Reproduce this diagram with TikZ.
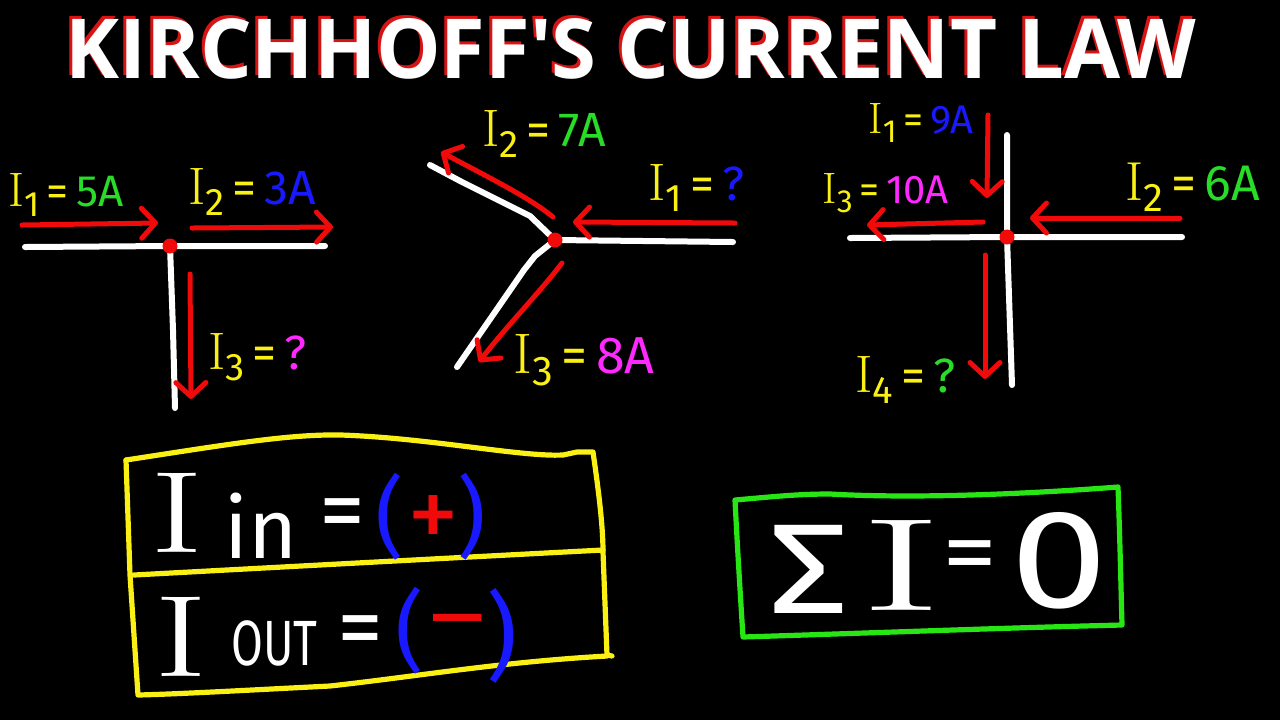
\documentclass[tikz,border=0pt]{standalone}
\usepackage{fontspec}
\usepackage{graphicx}
\usetikzlibrary{arrows.meta}
\newfontfamily\titlefont{Open Sans}
\newfontfamily\hand{Fira Sans}
\definecolor{hy}{RGB}{250,240,20}
\definecolor{hg}{RGB}{40,220,40}
\definecolor{bg}{RGB}{40,230,20}
\definecolor{hb}{RGB}{25,25,255}
\definecolor{hm}{RGB}{255,40,255}
\definecolor{hr}{RGB}{240,10,10}
\definecolor{tr}{RGB}{215,20,20}
\newcommand\KI[3]{\textcolor{hy}{\scalebox{1.1}{\rmfamily I}\raisebox{-0.45ex}{\scalebox{0.8}{#1}}\,=\,}\textcolor{#2}{#3}}
\newcommand\fs[1]{\fontsize{#1}{#1}\selectfont}
\tikzset{
  wire/.style={white, line width=3pt, line cap=round, line join=round},
  cur/.style={hr, line width=2.5pt, line cap=round, line join=round, -{Straight Barb[length=7pt,width=15pt,round]}},
  jdot/.style={circle, fill=hr, inner sep=0pt, minimum size=7.5pt},
  lab/.style={anchor=base west, inner sep=0pt, font=\hand\fs{24}},
  frame/.style={line width=2.6pt, line cap=round, line join=round},
  txt/.style={inner sep=0pt, white},
}
\begin{document}
\begin{tikzpicture}[x=0.5pt,y=-0.5pt]
\fill[black] (0,0) rectangle (1280,720);
\useasboundingbox (0,0) rectangle (1280,720);
% title
\node[anchor=base west, inner sep=0pt, text=tr] (titleshadow) at (62,75) {\resizebox{565pt}{30pt}{\titlefont\bfseries KIRCHHOFF'S CURRENT LAW}};
\node[anchor=base west, inner sep=0pt, text=white] (title) at (65,78) {\resizebox{565pt}{30pt}{\titlefont\bfseries KIRCHHOFF'S CURRENT LAW}};

% ---------- diagram 1 ----------
\coordinate (j1) at (170,246);
\coordinate (w1l) at (25,247);
\coordinate (w1r) at (325,246);
\coordinate (w1d) at (175,408);
\draw[wire] (w1l) -- (j1) -- (w1r);
\draw[wire] (j1) -- (173,330) -- (w1d);
\node[jdot] (d1) at (j1) {};
\coordinate (a1s) at (22,225); \coordinate (a1e) at (158,223);
\coordinate (a2s) at (192,228); \coordinate (a2e) at (333,227);
\coordinate (a3s) at (190,274); \coordinate (a3e) at (191,399);
\draw[cur] (a1s) -- (a1e);
\draw[cur] (a2s) -- (a2e);
\draw[cur] (a3s) -- (a3e);
\node[lab, font=\hand\fs{22}] (l11) at (8,206) {\KI{1}{hg}{5A}};
\node[lab] (l12) at (188,204) {\KI{2}{hb}{3A}};
\node[lab] (l13) at (208,369) {\KI{3}{hm}{?}};

% ---------- diagram 2 ----------
\coordinate (j2) at (555,240);
\draw[wire] (j2) -- (733,242);
\draw[wire] (j2) -- (530,216) -- (462,182) -- (430,165);
\draw[wire] (j2) -- (535,256) -- (524,270) -- (457,367);
\node[jdot] (d2) at (j2) {};
\coordinate (b1s) at (735,223); \coordinate (b1e) at (573,222);
\draw[cur] (b1s) -- (b1e);
\coordinate (b2s) at (553,217); \coordinate (b2e) at (441,152);
\draw[cur] (b2s) .. controls (530,198) and (490,178) .. (b2e);
\coordinate (b3s) at (562,263); \coordinate (b3e) at (479,362);
\draw[cur] (b3s) .. controls (540,292) and (505,328) .. (b3e);
\node[lab] (l22) at (482,146) {\KI{2}{hg}{7A}};
\node[lab] (l21) at (648,200) {\KI{1}{hb}{?}};
\node[lab, font=\hand\fs{26}] (l23) at (513,373) {\KI{3}{hm}{8A}};

% ---------- diagram 3 ----------
\coordinate (j3) at (1007,237);
\draw[wire] (850,238) -- (j3) -- (1182,237);
\draw[wire] (1007,135) -- (j3) -- (1012,385);
\node[jdot] (d3) at (j3) {};
\coordinate (c1s) at (988,115); \coordinate (c1e) at (987,198);
\coordinate (c2s) at (1180,218); \coordinate (c2e) at (1030,218);
\coordinate (c3s) at (983,222); \coordinate (c3e) at (867,225);
\coordinate (c4s) at (985,255); \coordinate (c4e) at (985,379);
\draw[cur] (c1s) -- (c1e);
\draw[cur] (c2s) -- (c2e);
\draw[cur] (c3s) -- (c3e);
\draw[cur] (c4s) -- (c4e);
\node[lab, font=\hand\fs{20}] (l31) at (868,133) {\KI{1}{hb}{9A}};
\node[lab, font=\hand\fs{20}] (l33) at (822,203) {\KI{3}{hm}{10A}};
\node[lab, font=\hand\fs{25}] (l32) at (1125,200) {\KI{2}{hg}{6A}};
\node[lab] (l34) at (855,392) {\KI{4}{hg}{?}};

% ---------- yellow box ----------
\draw[frame, hy] (126,460) .. controls (230,444) and (290,434) .. (341,435)
  .. controls (430,438) and (520,457) .. (563,455) -- (577,452) -- (593,452)
  .. controls (600,500) and (603,530) .. (603,552) -- (607,655) -- (612,656);
\draw[frame, hy] (607,656) .. controls (500,662) and (420,676) .. (330,686)
  .. controls (250,690) and (180,694) .. (138,695) -- (130,575) -- (126,460);
\draw[frame, hy] (134,575) .. controls (300,566) and (450,558) .. (603,550);
\node[txt, anchor=base west, font=\rmfamily\fs{58}] (iin) at (150,552) {\scalebox{1.4}[1]{I}};
\node[txt, anchor=base west, font=\hand\fs{42}] (in) at (224,558) {in};
\node[txt, font=\hand\fs{46}] (eq1) at (342,520) {=};
\node[inner sep=0pt, text=hb, font=\hand\fs{44}] (lp1) at (390,517) {(};
\node[inner sep=0pt, text=hr, font=\hand\fs{52}] (plus) at (433,522) {+};
\node[inner sep=0pt, text=hb, font=\hand\fs{44}] (rp1) at (472,517) {)};
\node[txt, anchor=base west, font=\rmfamily\fs{58}] (iout) at (154,676) {\scalebox{1.4}[1]{I}};
\node[txt, anchor=base west, font=\hand\fs{32}] (out) at (231,665) {\scalebox{0.72}[1]{OUT}};
\node[txt, font=\hand\fs{46}] (eq2) at (360,637) {=};
\node[inner sep=0pt, text=hb, font=\hand\fs{44}] (lp2) at (410,631) {(};
\node[inner sep=0pt, text=hr, font=\hand\fs{46}] (minus) at (458,631) {\scalebox{1.4}[1]{−}};
\node[inner sep=0pt, text=hb, font=\hand\fs{48}] (rp2) at (502,636) {)};

% ---------- green box ----------
\draw[frame, bg] (735,500) .. controls (780,496) and (800,494) .. (830,494)
  .. controls (900,498) and (1000,496) .. (1118,487)
  .. controls (1120,540) and (1121,590) .. (1122,625)
  .. controls (1000,628) and (900,632) .. (743,637)
  .. controls (740,590) and (737,540) .. (735,500) -- cycle;
\node[txt, anchor=base west, font=\hand\fs{64}] (sig) at (768,613) {\scalebox{1.25}[1]{Σ}};
\node[txt, anchor=base west, font=\rmfamily\fs{66}] (isum) at (860,610) {\scalebox{1.9}[1]{I}};
\node[txt, font=\hand\fs{46}] (eq3) at (970,562) {\scalebox{1.2}[1]{=}};
\node[txt, anchor=base west, font=\hand\fs{70}] (zero) at (1010,607) {\scalebox{1.25}[1]{0}};
\end{tikzpicture}
\end{document}
